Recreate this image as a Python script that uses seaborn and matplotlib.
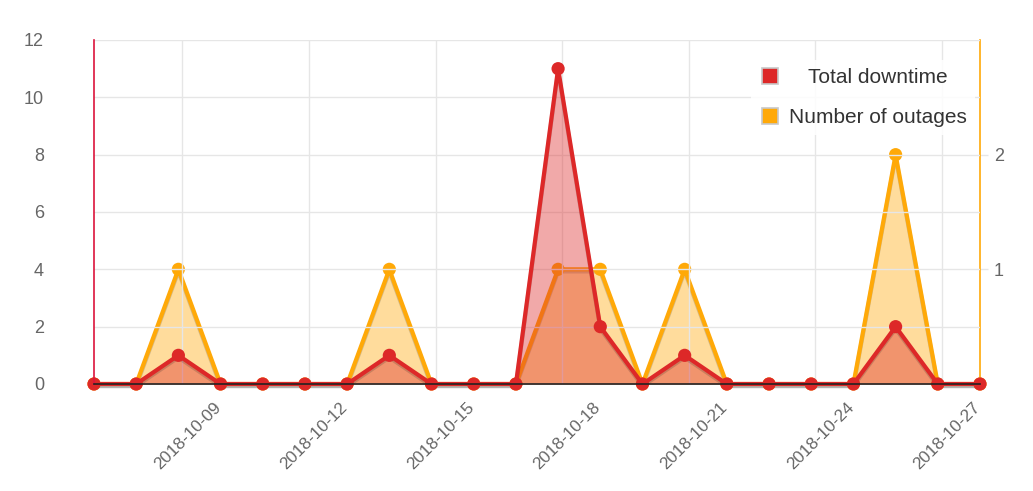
import matplotlib
matplotlib.use("Agg")
import matplotlib.pyplot as plt
import matplotlib.dates as mdates
import matplotlib.patheffects as pe
from matplotlib.lines import Line2D
from matplotlib.transforms import ScaledTranslation
import seaborn as sns
import pandas as pd

dates = ["2018-10-07", "2018-10-08", "2018-10-09", "2018-10-10", "2018-10-11",
         "2018-10-12", "2018-10-13", "2018-10-14", "2018-10-15", "2018-10-16",
         "2018-10-17", "2018-10-18", "2018-10-19", "2018-10-20", "2018-10-21",
         "2018-10-22", "2018-10-23", "2018-10-24", "2018-10-25", "2018-10-26",
         "2018-10-27", "2018-10-28"]
total_downtime = [0, 0, 1, 0, 0, 0, 0, 1, 0, 0, 0, 11, 2, 0, 1, 0, 0, 0, 0, 2, 0, 0]
num_outages = [0, 0, 1, 0, 0, 0, 0, 1, 0, 0, 0, 1, 1, 0, 1, 0, 0, 0, 0, 2, 0, 0]
tick_dates = ["2018-10-09", "2018-10-12", "2018-10-15", "2018-10-18",
              "2018-10-21", "2018-10-24", "2018-10-27"]
left_ticks = [0, 2, 4, 6, 8, 10, 12]
right_ticks = [1, 2]
series_names = ["Total downtime", "Number of outages"]

RED = "#dd2828"
ORANGE = "#ffa908"
TEXT = "#666666"
GRID = "#e6e6e6"

df = pd.DataFrame({"date": pd.to_datetime(dates),
                   "downtime": total_downtime,
                   "outages": num_outages})

sns.set_theme(style="white")
plt.rcParams["font.family"] = ["Liberation Sans", "DejaVu Sans"]

fig = plt.figure(figsize=(10.33, 4.91), dpi=100)
ax = fig.add_subplot(111)
fig.subplots_adjust(left=94/1033, right=980/1033, top=1-40/491, bottom=1-384/491)
ax2 = ax.twinx()

# orange series on right axis (drawn beneath)
ax2.fill_between(df["date"], df["outages"], 0, color=ORANGE, alpha=0.4, linewidth=0)
sns.lineplot(data=df, x="date", y="outages", ax=ax2, color=ORANGE, linewidth=3,
             marker="o", markersize=9.5, markeredgewidth=0)

# red series on left axis (drawn on top)
ax.fill_between(df["date"], df["downtime"], 0, color=RED, alpha=0.4, linewidth=0)
sns.lineplot(data=df, x="date", y="downtime", ax=ax, color=RED, linewidth=3,
             marker="o", markersize=9.5, markeredgewidth=0)
shadow = [pe.SimpleLineShadow(offset=(0, -1.5), shadow_color="k", alpha=0.18), pe.Normal()]
for ln in (ax.lines[-1], ax2.lines[-1]):
    ln.set_path_effects(shadow)
    ln.set_clip_on(False)

ax.set_zorder(2)
ax2.set_zorder(1)
ax.patch.set_visible(False)

# limits
ax.set_xlim(df["date"].iloc[0], df["date"].iloc[-1])
ax.set_ylim(0, 12)
ax2.set_ylim(0, 3)

# x ticks
tick_pos = pd.to_datetime(tick_dates) + pd.Timedelta(hours=2.3)
ax.set_xticks(tick_pos)
ax.xaxis.set_major_formatter(mdates.DateFormatter("%Y-%m-%d"))
ax.tick_params(axis="x", length=0, pad=15, labelsize=12.3, labelcolor=TEXT)
offset = ScaledTranslation(0.36, 0, fig.dpi_scale_trans)
for lab in ax.get_xticklabels():
    lab.set_rotation(45)
    lab.set_ha("right")
    lab.set_va("center")
    lab.set_rotation_mode("anchor")
    lab.set_transform(lab.get_transform() + offset)

# left y
ax.set_yticks(left_ticks)
ax.tick_params(axis="y", length=0, pad=36, labelsize=13, labelcolor=TEXT)

# right y
ax2.set_yticks(right_ticks)
ax2.tick_params(axis="y", length=6, width=1, color=GRID, pad=4, labelsize=13,
                labelcolor=TEXT)

ax.grid(True, color=GRID, linewidth=1)
ax2.grid(False)
ax.set_axisbelow(True)
ax.set_xlabel("")
ax.set_ylabel("")
ax2.set_xlabel("")
ax2.set_ylabel("")

for s in ["top", "right"]:
    ax.spines[s].set_visible(False)
ax.spines["left"].set_color("#dc143c")
ax.spines["left"].set_linewidth(1.2)
ax.spines["bottom"].set_color("#222222")
ax.spines["bottom"].set_linewidth(1.2)
for s in ["top", "left", "bottom"]:
    ax2.spines[s].set_visible(False)
ax2.spines["right"].set_color(ORANGE)
ax2.spines["right"].set_linewidth(1.2)

handles = [Line2D([], [], linestyle="none", marker="s", markersize=12,
                  markerfacecolor=c, markeredgecolor="#c8c8c8", markeredgewidth=1.2)
           for c in [RED, ORANGE]]
leg = ax.legend(handles, series_names, loc="upper right",
                bbox_to_anchor=(975/1033, 1-60/491), bbox_transform=fig.transFigure,
                frameon=True, framealpha=0.85, edgecolor="none", facecolor="white",
                fontsize=15, labelspacing=1.0, handletextpad=0.4, borderpad=0.4,
                handlelength=1.0, borderaxespad=0)
for t in leg.get_texts():
    t.set_color("#333333")
first = leg.get_texts()[0]
first.set_transform(first.get_transform() + ScaledTranslation(0.19, 0, fig.dpi_scale_trans))

fig.savefig("out.png", dpi=100)
